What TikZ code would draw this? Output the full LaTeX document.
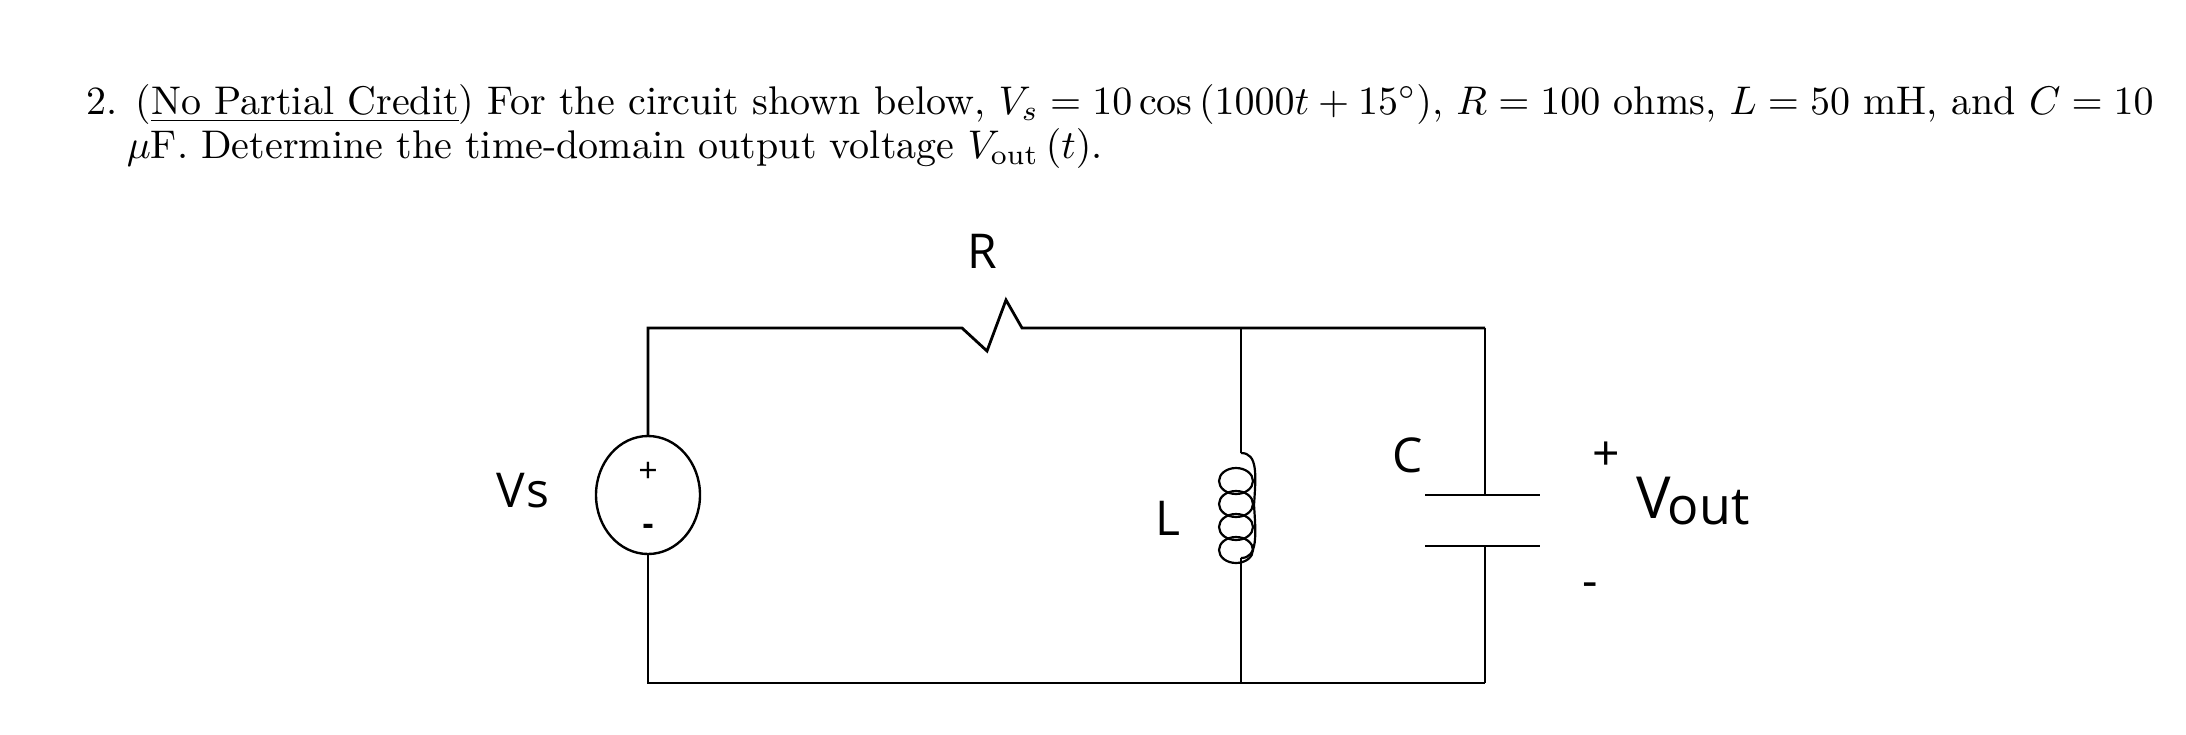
\documentclass[tikz,border=0pt]{standalone}
\usepackage{fontspec}
\usetikzlibrary{shapes.geometric}
\newfontfamily\lab{Open Sans}
\begin{document}
\begin{tikzpicture}[x=1pt,y=-1pt,
  wire/.style={line width=2.8pt},
  thin/.style={line width=2.2pt},
  lbl/.style={font=\lab\fontsize{48}{50}\selectfont,inner sep=0pt},
  txt/.style={font=\normalsize,scale=4.0,anchor=base west,inner sep=0pt}]
\useasboundingbox (0,0) rectangle (2186,734);
\node[txt] (t1) at (86,114) {2. (\underline{No Partial Credit}) For the circuit shown below, $V_s=10\cos\left(1000t+15^\circ\right)$, $R=100$ ohms, $L=50$ mH, and $C=10$};
\node[txt] (t2) at (126,158) {$\mu$F. Determine the time-domain output voltage $V_{\mathrm{out}}\left(t\right)$.};
\coordinate (tl) at (648,328);
\coordinate (bl) at (648,683);
\coordinate (tr) at (1485,328);
\coordinate (br) at (1485,683);
\coordinate (lt) at (1241,328);
\coordinate (lb) at (1241,683);
\coordinate (r1) at (962,328);
\coordinate (r2) at (1039,328);
\node[draw,ellipse,line width=2.4pt,minimum width=104pt,minimum height=118pt,inner sep=0pt] (vs) at (648,495) {};
\draw[wire] (vs.north) -- (tl) -- (r1) -- (987,351) -- (1006,300) -- (1022,328) -- (r2) -- (tr);
\draw[wire] (vs.south) -- (bl) -- (br);
\node[font=\lab\fontsize{34}{34}\selectfont,inner sep=0pt] (vp) at (648,472) {+};
\node[font=\lab\bfseries\fontsize{34}{34}\selectfont,inner sep=0pt] (vm) at (648,530) {-};
% inductor
\coordinate (i1) at (1241,453);
\coordinate (i2) at (1241,558);
\draw[thin] (lt) -- (i1);
\draw[thin] (i2) -- (lb);
\draw[thin] (i1) .. controls (1258,453) and (1256,475) .. (1254,505) .. controls (1256,535) and (1258,558) .. (i2);
\foreach \k in {0,...,3}{
  \draw[thin] (1236,481+\k*23) ellipse (17pt and 13pt);
}
% capacitor
\coordinate (c1) at (1485,495);
\coordinate (c2) at (1485,546);
\draw[thin] (tr) -- (c1);
\draw[thin] (c2) -- (br);
\draw[wire] (1425,495) -- (1540,495);
\draw[wire] (1425,546) -- (1540,546);
% labels
\node[lbl] (lR) at (982,251) {R};
\node[lbl] (lVs) at (523,491) {V\kern1pt s};
\node[lbl] (lL) at (1168,518) {L};
\node[lbl] (lC) at (1408,455) {C};
\node[lbl] (lp) at (1606,456) {+};
\node[lbl,anchor=base west] (lV) at (1636,518) {\fontsize{58}{60}\selectfont V\kern-3pt\raisebox{-6pt}{\fontsize{52}{54}\selectfont out}};
\node[lbl] (lm) at (1590,590) {-};
\end{tikzpicture}
\end{document}
